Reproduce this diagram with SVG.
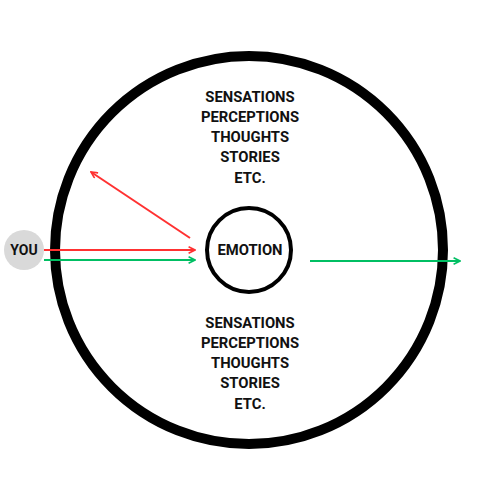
<svg xmlns="http://www.w3.org/2000/svg" width="500" height="500" viewBox="0 0 500 500">
<defs>
<style>
.t{font-family:Roboto,"Liberation Sans",sans-serif;font-weight:bold;font-size:14.8px;fill:#111;text-anchor:middle}
.red{stroke:#ff3131;stroke-width:2;fill:none}
.grn{stroke:#00bf63;stroke-width:2;fill:none}
</style>
<marker id="ar" viewBox="0 0 10 10" refX="9" refY="5" markerWidth="8" markerHeight="8" orient="auto" markerUnits="userSpaceOnUse"><path d="M1,1 L9,5 L1,9" fill="none" stroke="#ff3131" stroke-width="2"/></marker>
<marker id="ag" viewBox="0 0 10 10" refX="9" refY="5" markerWidth="8" markerHeight="8" orient="auto" markerUnits="userSpaceOnUse"><path d="M1,1 L9,5 L1,9" fill="none" stroke="#00bf63" stroke-width="2"/></marker>
</defs>
<g id="outer"><circle cx="249" cy="250" r="194" fill="none" stroke="#000" stroke-width="10"/></g>
<g id="top-text">
<text class="t" x="250" y="102">SENSATIONS</text>
<text class="t" x="250" y="122">PERCEPTIONS</text>
<text class="t" x="250" y="142">THOUGHTS</text>
<text class="t" x="250" y="162">STORIES</text>
<text class="t" x="250" y="183">ETC.</text>
</g>
<g id="bottom-text">
<text class="t" x="250" y="328">SENSATIONS</text>
<text class="t" x="250" y="348">PERCEPTIONS</text>
<text class="t" x="250" y="368">THOUGHTS</text>
<text class="t" x="250" y="388">STORIES</text>
<text class="t" x="250" y="409">ETC.</text>
</g>
<g id="emotion"><circle cx="249" cy="250" r="42" fill="#fff" stroke="#000" stroke-width="4"/><text class="t" x="250" y="255">EMOTION</text></g>
<g id="you"><circle cx="24" cy="250" r="20" fill="#d9d9d9"/><text class="t" x="24" y="255" style="font-size:14px">YOU</text></g>
<g id="connectors">
<line class="red" x1="44" y1="250" x2="195" y2="250" marker-end="url(#ar)"/>
<line class="grn" x1="44" y1="260" x2="195" y2="260" marker-end="url(#ag)"/>
<line class="red" x1="190" y1="238" x2="91" y2="172" marker-end="url(#ar)"/>
<line class="grn" x1="310" y1="261" x2="460" y2="261" marker-end="url(#ag)"/>
</g>
</svg>
